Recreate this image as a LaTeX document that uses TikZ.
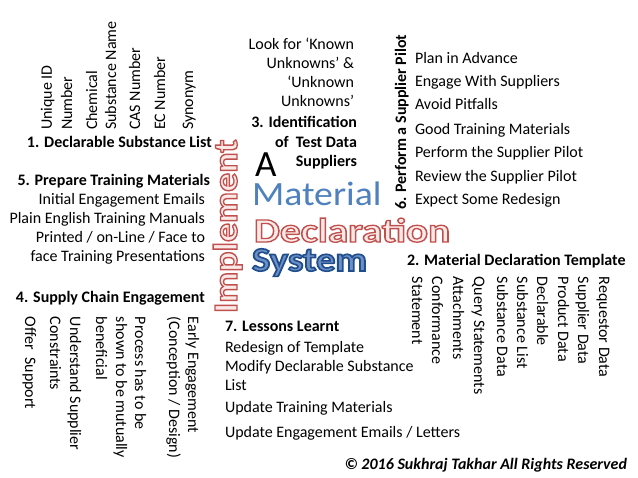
\documentclass[tikz,border=0pt]{standalone}
\usepackage{fontspec}
\setmainfont{Carlito}
\definecolor{matblue}{HTML}{4F81BD}
\definecolor{decpink}{HTML}{FBE9E8}
\definecolor{sysmid}{HTML}{6E8EC6}
\newcommand{\outlinetext}[3]{\special{pdf:literal direct 2 Tr #2 w #3 RG}#1\special{pdf:literal direct 0 Tr}}
\begin{document}
\begin{tikzpicture}[x=1pt,y=-1pt,
  every node/.style={inner sep=0pt,outer sep=0pt},
  txt/.style={font=\fontsize{16}{19}\selectfont,anchor=base west},
  txtr/.style={font=\fontsize{16}{19}\selectfont,anchor=base east},
  hdr/.style={font=\bfseries\fontsize{16}{19}\selectfont,anchor=base west},
  hdrr/.style={font=\bfseries\fontsize{16}{19}\selectfont,anchor=base east},
  up/.style={txt,rotate=90},
  down/.style={txt,rotate=-90},
  big/.style={anchor=base west,font=\fontsize{34}{34}\selectfont},
  bigb/.style={anchor=base west,font=\bfseries\fontsize{34}{34}\selectfont}]
\fill[white] (0,0) rectangle (638,478);
\useasboundingbox (0,0) rectangle (638,478);

% 1. Declarable Substance List
\node[up] (s1a) at (52,130) {Unique ID};
\node[up] (s1b) at (72,130) {Number};
\node[up] (s1c) at (97,130) {Chemical};
\node[up] (s1d) at (116,130) {Substance Name};
\node[up] (s1e) at (140,130) {CAS Number};
\node[up] (s1f) at (165,130) {EC Number};
\node[up] (s1g) at (193,130) {Synonym};
\node[hdr] (h1) at (27,148) {1. Declarable Substance List};

% 3. Identification
\node[txtr] (s3a) at (354,50) {Look for ‘Known};
\node[txtr] (s3b) at (354,69) {Unknowns’ \&};
\node[txtr] (s3c) at (354,88) {‘Unknown};
\node[txtr] (s3d) at (354,107) {Unknowns’};
\node[hdrr] (h3a) at (357,128) {3. Identification};
\node[hdrr] (h3b) at (357,148) {of~ Test Data};
\node[hdrr] (h3c) at (357,167) {Suppliers};

% 6. Perform a Supplier Pilot
\node[hdr,rotate=90] (h6) at (406,210) {6. Perform a Supplier Pilot};
\node[txt] (s6a) at (415,64) {Plan in Advance};
\node[txt] (s6b) at (415,87) {Engage With Suppliers};
\node[txt] (s6c) at (415,110) {Avoid Pitfalls};
\node[txt] (s6d) at (415,135) {Good Training Materials};
\node[txt] (s6e) at (415,158) {Perform the Supplier Pilot};
\node[txt] (s6f) at (415,182) {Review the Supplier Pilot};
\node[txt] (s6g) at (415,205) {Expect Some Redesign};

% Central title
\node[anchor=base west,font=\fontsize{37}{37}\selectfont] (bigA) at (255,177) {A};
\node[big,text=matblue] (mat) at (252,206) {\scalebox{1.11}[1]{Material}};
\node[bigb,text=decpink] (dec) at (254,242) {\scalebox{1.21}[1]{\outlinetext{Declaration}{1.3}{0.753 0.314 0.302}}};
\node[bigb,text=sysmid] (sys) at (252,271) {\scalebox{1.14}[1]{\outlinetext{System}{1.6}{0.122 0.306 0.549}}};
\node[bigb,rotate=90,text=decpink] (impl) at (237,313) {\scalebox{1.12}[1]{\outlinetext{Implement}{1.3}{0.753 0.314 0.302}}};

% 5. Prepare Training Materials
\node[hdrr] (h5) at (210,186) {5. Prepare Training Materials};
\node[txtr] (s5a) at (205,205) {Initial Engagement Emails};
\node[txtr] (s5b) at (205,224) {Plain English Training Manuals};
\node[txtr] (s5c) at (205,243) {Printed / on-Line / Face to};
\node[txtr] (s5d) at (205,262) {face Training Presentations};

% 4. Supply Chain Engagement
\node[hdr] (h4) at (16,303) {4. Supply Chain Engagement};
\node[down] (s4a) at (188,317) {Early Engagement};
\node[down] (s4b) at (169,317) {(Conception / Design)};
\node[down] (s4c) at (135,317) {Process has to be};
\node[down] (s4d) at (116,317) {shown to be mutually};
\node[down] (s4e) at (96,317) {beneficial};
\node[down] (s4f) at (70,317) {Understand Supplier};
\node[down] (s4g) at (50,317) {Constraints};
\node[down] (s4h) at (25,317) {Offer~ Support};

% 2. Material Declaration Template
\node[hdr] (h2) at (407,266) {2. Material Declaration Template};
\node[down] (s2a) at (599,277) {Requestor Data};
\node[down] (s2b) at (578,277) {Supplier Data};
\node[down] (s2c) at (558,277) {Product Data};
\node[down] (s2d) at (537,277) {Declarable};
\node[down] (s2e) at (517,277) {Substance List};
\node[down] (s2f) at (497,277) {Substance Data};
\node[down] (s2g) at (474,277) {Query Statements};
\node[down] (s2h) at (453,277) {Attachments};
\node[down] (s2i) at (432,277) {Conformance};
\node[down] (s2j) at (412,277) {Statement};

% 7. Lessons Learnt
\node[hdr] (h7) at (225,332) {7. Lessons Learnt};
\node[txt] (s7a) at (225,353) {Redesign of Template};
\node[txt] (s7b) at (225,372) {Modify Declarable Substance};
\node[txt] (s7c) at (225,391) {List};
\node[txt] (s7d) at (225,413) {Update Training Materials};
\node[txt] (s7e) at (225,438) {Update Engagement Emails / Letters};

% Copyright
\node[anchor=base east,font=\bfseries\itshape\fontsize{16}{19}\selectfont] (copy) at (627,470) {© 2016 Sukhraj Takhar All Rights Reserved};
\end{tikzpicture}
\end{document}
